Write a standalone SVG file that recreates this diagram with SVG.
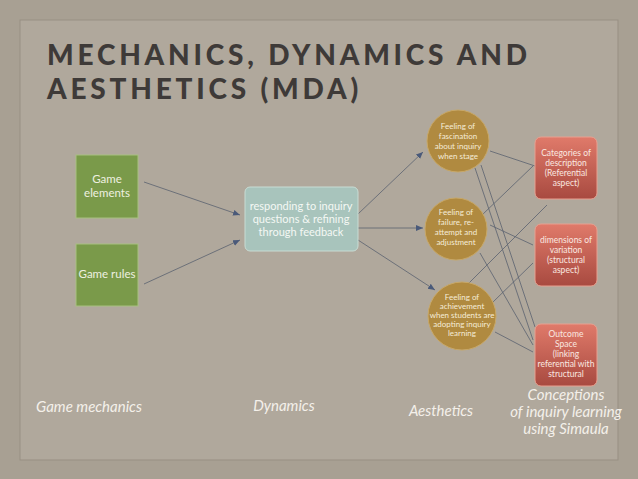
<svg xmlns="http://www.w3.org/2000/svg" width="638" height="479" viewBox="0 0 638 479">
<defs>
<marker id="ah" markerWidth="8" markerHeight="8" refX="7" refY="4" orient="auto" markerUnits="userSpaceOnUse"><path d="M0,1 L7,4 L0,7 z" fill="#4a5a7a"/></marker>
<linearGradient id="rg" x1="0" y1="0" x2="0" y2="1"><stop offset="0" stop-color="#e07a6a"/><stop offset="1" stop-color="#a84a40"/></linearGradient>
<style>
.t{font-family:"Lato","Liberation Sans",sans-serif;}
.ttl{font-family:"Lato","Liberation Sans",sans-serif;font-weight:900;font-size:28px;fill:#3e3a38;letter-spacing:3.8px;}
.g{fill:#7a9a4a;stroke:#a8c080;stroke-width:1}
.gt{font-size:11.5px;fill:#eef0e0;text-anchor:middle}
.c{fill:#b08a40;stroke:#c8a868;stroke-width:1}
.ct{font-size:8px;fill:#f5ecd8;text-anchor:middle}
.r{fill:url(#rg);stroke:#e8a090;stroke-width:1}
.rt{font-size:8.5px;fill:#fae8e0;text-anchor:middle}
.lab{font-size:15px;font-style:italic;fill:#f4f0ea;text-anchor:middle}
.ln{stroke:#5a6270;stroke-width:0.8;fill:none}
</style>
</defs>
<rect width="638" height="479" fill="#a8a093"/>
<rect x="20" y="20" width="598" height="440" fill="#b0a89c" stroke="#988f83" stroke-width="1"/>
<text class="ttl" x="47" y="65">MECHANICS, DYNAMICS AND</text>
<text class="ttl" x="47" y="99">AESTHETICS (MDA)</text>
<g id="connectors">
<line class="ln" x1="144" y1="182" x2="240" y2="215" marker-end="url(#ah)"/>
<line class="ln" x1="144" y1="284" x2="240" y2="240" marker-end="url(#ah)"/>
<line class="ln" x1="358" y1="214" x2="423" y2="152" marker-end="url(#ah)"/>
<line class="ln" x1="358" y1="228" x2="423" y2="228" marker-end="url(#ah)"/>
<line class="ln" x1="358" y1="240" x2="435" y2="290" marker-end="url(#ah)"/>
<line class="ln" x1="490" y1="151" x2="535" y2="166"/>
<line class="ln" x1="475" y1="168" x2="533" y2="340"/>
<line class="ln" x1="481" y1="165" x2="535" y2="327"/>
<line class="ln" x1="482" y1="215" x2="533" y2="166"/>
<line class="ln" x1="490" y1="225" x2="533" y2="245"/>
<line class="ln" x1="480" y1="253" x2="533" y2="345"/>
<line class="ln" x1="465" y1="287" x2="547" y2="205"/>
<line class="ln" x1="493" y1="302" x2="533" y2="263"/>
<line class="ln" x1="495" y1="332" x2="533" y2="352"/>
</g>
<g id="game-elements"><rect class="g" x="76" y="155" width="62" height="63"/><text class="t gt" x="107" y="183">Game</text><text class="t gt" x="107" y="197">elements</text></g>
<g id="game-rules"><rect class="g" x="76" y="244" width="62" height="62"/><text class="t gt" x="107" y="278">Game rules</text></g>
<g id="dynamics-box"><rect x="245" y="187" width="113" height="64" rx="5" fill="#a8c4bc" stroke="#c8dcd4"/><text class="t" x="301" y="210" font-size="11" fill="#f4f8f4" text-anchor="middle">responding to inquiry</text><text class="t" x="301" y="223" font-size="11" fill="#f4f8f4" text-anchor="middle">questions &amp; refining</text><text class="t" x="301" y="236" font-size="11" fill="#f4f8f4" text-anchor="middle">through feedback</text></g>
<g id="fascination"><circle class="c" cx="458" cy="141" r="31"/><text class="t ct" x="458" y="129">Feeling of</text><text class="t ct" x="458" y="139">fascination</text><text class="t ct" x="458" y="149">about inquiry</text><text class="t ct" x="458" y="159">when stage</text></g>
<g id="failure"><circle class="c" cx="456" cy="229" r="31"/><text class="t ct" x="456" y="215">Feeling of</text><text class="t ct" x="456" y="225">failure, re-</text><text class="t ct" x="456" y="235">attempt and</text><text class="t ct" x="456" y="245">adjustment</text></g>
<g id="achievement"><circle class="c" cx="462" cy="316" r="34"/><text class="t ct" x="462" y="300">Feeling of</text><text class="t ct" x="462" y="309">achievement</text><text class="t ct" x="462" y="318">when students are</text><text class="t ct" x="462" y="327">adopting inquiry</text><text class="t ct" x="462" y="336">learning</text></g>
<g id="categories"><rect class="r" x="535" y="137" width="62" height="62" rx="6"/><text class="t rt" x="566" y="156">Categories of</text><text class="t rt" x="566" y="166">description</text><text class="t rt" x="566" y="176">(Referential</text><text class="t rt" x="566" y="186">aspect)</text></g>
<g id="dimensions"><rect class="r" x="535" y="224" width="62" height="62" rx="6"/><text class="t rt" x="566" y="243">dimensions of</text><text class="t rt" x="566" y="253">variation</text><text class="t rt" x="566" y="263">(structural</text><text class="t rt" x="566" y="273">aspect)</text></g>
<g id="outcome"><rect class="r" x="535" y="324" width="62" height="62" rx="6"/><text class="t rt" x="566" y="337">Outcome</text><text class="t rt" x="566" y="347">Space</text><text class="t rt" x="566" y="357">(linking</text><text class="t rt" x="566" y="367">referential with</text><text class="t rt" x="566" y="377">structural</text></g>
<g id="labels">
<text class="t lab" x="89" y="412">Game mechanics</text>
<text class="t lab" x="284" y="411">Dynamics</text>
<text class="t lab" x="441" y="416">Aesthetics</text>
<text class="t lab" x="566" y="400">Conceptions</text>
<text class="t lab" x="566" y="417">of inquiry learning</text>
<text class="t lab" x="566" y="434">using Simaula</text>
</g>
</svg>
